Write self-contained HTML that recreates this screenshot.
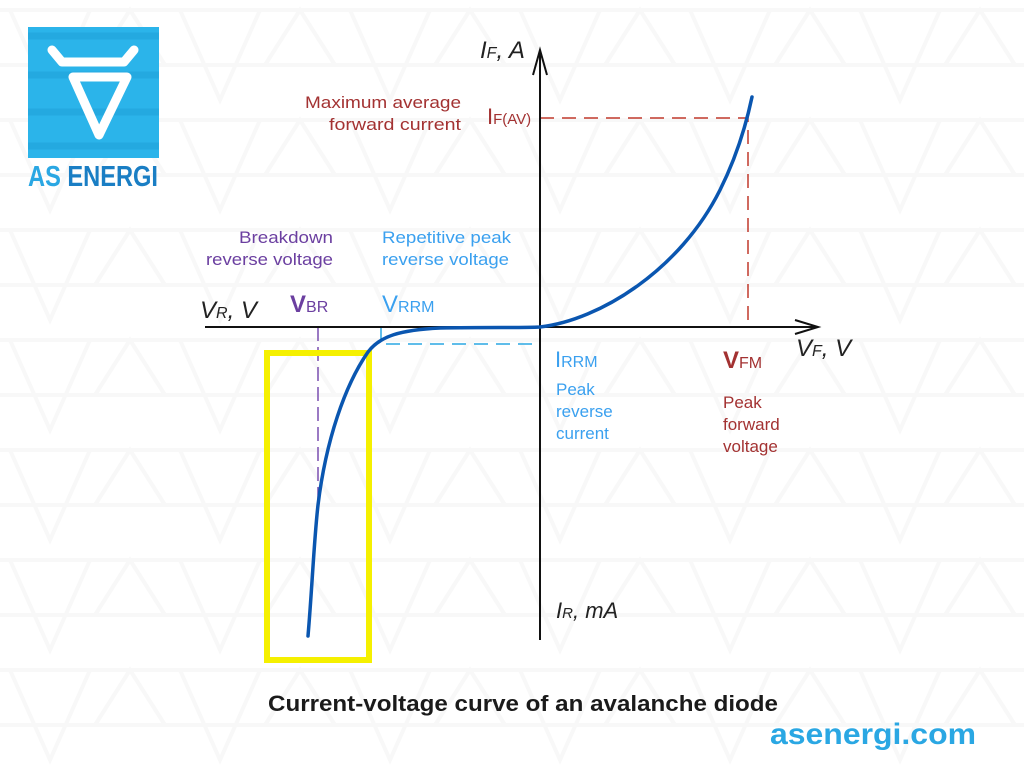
<!DOCTYPE html>
<html><head><meta charset="utf-8"><style>
html,body{margin:0;padding:0;background:#fff}
svg{display:block}
text{font-family:"Liberation Sans",sans-serif}
</style></head><body>
<svg width="1024" height="768" viewBox="0 0 1024 768" xmlns="http://www.w3.org/2000/svg">
<defs>
<pattern id="bg" width="170" height="110" patternUnits="userSpaceOnUse">
<path d="M0 10 L170 10 M0 65 L170 65 M10 10 L50 100 L90 10 M95 65 L130 10 L165 65" stroke="#f8f8f8" stroke-width="4" fill="none"/>
</pattern>
</defs>
<rect width="1024" height="768" fill="url(#bg)"/>
<rect x="28" y="27" width="131" height="131" fill="#2bb4ea"/>
<path d="M28 36 H159 M28 75 H159 M28 112 H159 M28 146 H159" stroke="#1e9fd8" stroke-width="7" opacity="0.5"/>
<path d="M52 50 L62 62 H124 L134 50" stroke="#fff" stroke-width="9" fill="none" stroke-linecap="round" stroke-linejoin="round"/>
<path d="M73 77 H127 L99 135 Z" stroke="#fff" stroke-width="9" fill="none" stroke-linejoin="round"/>
<text x="28" y="186" font-size="29" font-weight="bold" fill="#2aa7e3" textLength="130" lengthAdjust="spacingAndGlyphs">AS <tspan fill="#1a7ec4">ENERGI</tspan></text>

<path d="M540 118 H748 V327" stroke="#c0392b" stroke-width="1.5" stroke-dasharray="14,8" fill="none"/>
<path d="M381 327 V344 H540" stroke="#2aa7e3" stroke-width="1.5" stroke-dasharray="14,8" fill="none"/>
<path d="M318 327 V510" stroke="#7a4fb0" stroke-width="1.5" stroke-dasharray="14,6" fill="none"/>

<path d="M205 327 H818" stroke="#111" stroke-width="2"/>
<path d="M795 320 L818 327 L795 334" stroke="#111" stroke-width="2" fill="none"/>
<path d="M540 640 V50" stroke="#111" stroke-width="2"/>
<path d="M533 75 L540 50 L547 75" stroke="#111" stroke-width="2" fill="none"/>

<rect x="267" y="353" width="102" height="307" fill="none" stroke="#f5f000" stroke-width="6"/>

<path d="M308 636 C312 590 314 540 318 505 C326 440 345 385 368 352 C380 336 400 330 440 328 C490 327 520 328 540 327 C600 320 680 270 720 190 C735 160 745 130 752 97" stroke="#0a56b0" stroke-width="3.5" fill="none" stroke-linecap="round"/>

<text x="480" y="58" font-size="24" font-style="italic" fill="#222">I<tspan font-size="16">F</tspan>, A</text>
<text x="305" y="108" font-size="17" fill="#a33232" textLength="156" lengthAdjust="spacingAndGlyphs">Maximum average</text>
<text x="329" y="130" font-size="17" fill="#a33232" textLength="132" lengthAdjust="spacingAndGlyphs">forward current</text>
<text x="487" y="124" font-size="22" fill="#a33232" font-family="Liberation Serif">I<tspan font-size="15" font-family="Liberation Sans">F(AV)</tspan></text>

<text x="239" y="243" font-size="17" fill="#6b3fa0" textLength="94" lengthAdjust="spacingAndGlyphs">Breakdown</text>
<text x="206" y="265" font-size="17" fill="#6b3fa0" textLength="127" lengthAdjust="spacingAndGlyphs">reverse voltage</text>
<text x="382" y="243" font-size="17" fill="#3aa0ef" textLength="129" lengthAdjust="spacingAndGlyphs">Repetitive peak</text>
<text x="382" y="265" font-size="17" fill="#3aa0ef" textLength="127" lengthAdjust="spacingAndGlyphs">reverse voltage</text>

<text x="200" y="318" font-size="24" font-style="italic" fill="#222">V<tspan font-size="16">R</tspan>, V</text>
<text x="290" y="312" font-size="24" font-weight="bold" fill="#6b3fa0">V<tspan font-size="16" font-weight="normal">BR</tspan></text>
<text x="382" y="312" font-size="24" fill="#3aa0ef">V<tspan font-size="16">RRM</tspan></text>

<text x="796" y="356" font-size="24" font-style="italic" fill="#222">V<tspan font-size="16">F</tspan>, V</text>
<text x="723" y="368" font-size="24" font-weight="bold" fill="#a33232">V<tspan font-size="16" font-weight="normal">FM</tspan></text>
<text x="723" y="408" font-size="17" fill="#a33232">Peak</text>
<text x="723" y="430" font-size="17" fill="#a33232">forward</text>
<text x="723" y="452" font-size="17" fill="#a33232">voltage</text>

<text x="555" y="367" font-size="22" fill="#3aa0ef" font-family="Liberation Serif">I<tspan font-size="16" font-family="Liberation Sans">RRM</tspan></text>
<text x="556" y="395" font-size="17" fill="#3aa0ef">Peak</text>
<text x="556" y="417" font-size="17" fill="#3aa0ef">reverse</text>
<text x="556" y="439" font-size="17" fill="#3aa0ef">current</text>

<text x="556" y="618" font-size="22" font-style="italic" fill="#222">I<tspan font-size="15">R</tspan>, mA</text>

<text x="268" y="711" font-size="22" font-weight="bold" fill="#1a1a1a" textLength="510" lengthAdjust="spacingAndGlyphs">Current-voltage curve of an avalanche diode</text>
<text x="770" y="744" font-size="30" font-weight="bold" fill="#2aa7e3" textLength="206" lengthAdjust="spacingAndGlyphs">asenergi.com</text>
</svg>
</body></html>
